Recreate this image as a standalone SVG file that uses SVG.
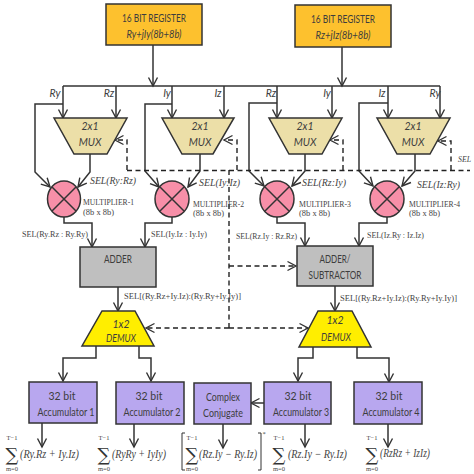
<svg xmlns="http://www.w3.org/2000/svg" width="474" height="474" viewBox="0 0 474 474">
<defs>
<marker id="a" markerUnits="userSpaceOnUse" markerWidth="12" markerHeight="12" refX="10" refY="6" orient="auto"><path d="M1.500,1.500 L10,6 L1.500,10.500" fill="none" stroke="#333" stroke-width="1.400"/></marker>
</defs>
<style>
text{font-family:Lato,"Liberation Sans",sans-serif;fill:#3d3d3d;font-size:10.500px;text-anchor:middle}
.n{stroke:#333;stroke-width:1.500}
.c{fill:none;stroke:#333;stroke-width:1.500;marker-end:url(#a)}
.l{fill:none;stroke:#333;stroke-width:1.500}
.d{fill:none;stroke:#222;stroke-width:1.400;stroke-dasharray:5 3.500}
.da{marker-end:url(#a)}
.reg{fill:#fdc12e}.mux{fill:#ecdfa8}.mul{fill:#f78fa8}.gray{fill:#bfbfbf}.dem{fill:#ffee00}.acc{fill:#b8a7ef}
.i{font-style:italic}
.s{font-family:"Liberation Serif",serif;font-size:8.500px;fill:#444;text-anchor:start}
.se{font-family:"Liberation Serif",serif;font-size:10.500px;font-style:italic;fill:#444;text-anchor:start}
.m{font-family:"Liberation Serif",serif;font-size:12px;font-style:italic;fill:#444;text-anchor:start}
.sum{font-family:"DejaVu Serif",serif;font-size:18px;fill:#333}
.t{font-family:"Liberation Serif",serif;font-size:6.500px;fill:#444}
</style>
<g id="connectors">
<path class="c" d="M153,45V86"/>
<path class="c" d="M342,47V86"/>
<path class="l" d="M63,86H440"/>
<path class="c" d="M63,86V118"/><path class="c" d="M116,86V118"/><path class="c" d="M172,86V118"/><path class="c" d="M224,86V118"/>
<path class="c" d="M277,86V118"/><path class="c" d="M332,86V118"/><path class="c" d="M388,86V118"/><path class="c" d="M440,86V118"/>
<path class="c" d="M63,104H35V172L50,187"/><path class="c" d="M90,154V172L78,187"/>
<path class="c" d="M172,104H145V171L159,187"/><path class="c" d="M200,154V171L188,187"/>
<path class="c" d="M277,103H249V171L264,186"/><path class="c" d="M305,154V171L292,186"/>
<path class="c" d="M388,103H359V171L373,186"/><path class="c" d="M415,154V171L402,186"/>
<path class="d" d="M127,170.500H470"/>
<path class="d da" d="M127,170V140H115"/><path class="d da" d="M237,170V140H224"/><path class="d da" d="M343,170V140H330"/><path class="d da" d="M451,170V141H438"/>
<path class="d" d="M229,170V328"/>
<path class="d da" d="M229,266H296"/>
<path class="d da" d="M229,328H146"/><path class="d da" d="M229,328H308"/>
<path class="c" d="M64,217V223H92V247"/><path class="c" d="M172,217V223H145V247"/><path class="c" d="M277,217V223H305V246"/><path class="c" d="M387,217V223H359V246"/>
<path class="c" d="M118,287V311"/><path class="c" d="M335,286V311"/>
<path class="c" d="M96,346V358H63V381"/><path class="c" d="M139,346V358H151V381"/><path class="c" d="M313,347V358H298V381"/><path class="c" d="M357,347V358H389V382"/>
<path class="c" d="M264,403H251"/>
<path class="c" d="M42,423V447"/><path class="c" d="M134,424V447"/><path class="c" d="M223,424V448"/><path class="c" d="M305,424V447"/><path class="c" d="M388,424V447"/>
</g>
<g id="reg1"><rect class="n reg" x="106" y="4" width="96" height="41"/><text x="154" y="22" textLength="64" lengthAdjust="spacingAndGlyphs">16 BIT REGISTER</text><text class="i" x="154" y="38" textLength="55" lengthAdjust="spacingAndGlyphs">Ry+jIy(8b+8b)</text></g>
<g id="reg2"><rect class="n reg" x="295" y="5" width="96" height="42"/><text x="343" y="23" textLength="64" lengthAdjust="spacingAndGlyphs">16 BIT REGISTER</text><text class="i" x="343" y="39" textLength="55" lengthAdjust="spacingAndGlyphs">Rz+jIz(8b+8b)</text></g>
<g id="bus-labels">
<text class="i" x="55" y="97">Ry</text><text class="i" x="109" y="97">Rz</text><text class="i" x="167" y="97">Iy</text><text class="i" x="218" y="97">Iz</text>
<text class="i" x="271" y="97">Rz</text><text class="i" x="327" y="97">Iy</text><text class="i" x="382" y="97">Iz</text><text class="i" x="435" y="97">Ry</text>
<text class="se" x="458" y="162" font-size="9" style="font-size:9px" textLength="13" lengthAdjust="spacingAndGlyphs">SEL</text>
</g>
<g id="mux1"><path class="n mux" d="M54,118H127L107,154H74Z"/><text class="i" x="90" y="130">2x1</text><text class="i" x="90" y="146">MUX</text></g>
<g id="mux2"><path class="n mux" d="M162,118H234L213,154H182Z"/><text class="i" x="200" y="130">2x1</text><text class="i" x="200" y="146">MUX</text></g>
<g id="mux3"><path class="n mux" d="M269,118H342L322,154H289Z"/><text class="i" x="305" y="130">2x1</text><text class="i" x="305" y="146">MUX</text></g>
<g id="mux4"><path class="n mux" d="M377,118H450L430,154H397Z"/><text class="i" x="413" y="130">2x1</text><text class="i" x="413" y="146">MUX</text></g>
<g id="mul1"><ellipse class="n mul" cx="64" cy="199" rx="16.500" ry="18"/><path class="l" d="M52,187L76,211M76,187L52,211"/><text class="s" x="83" y="205" textLength="51" lengthAdjust="spacingAndGlyphs">MULTIPLIER-1</text><text class="s" x="83" y="215" textLength="31" lengthAdjust="spacingAndGlyphs">(8b x 8b)</text><text class="se" x="90" y="184" textLength="46" lengthAdjust="spacingAndGlyphs">SEL(Ry:Rz)</text></g>
<g id="mul2"><ellipse class="n mul" cx="172" cy="199" rx="17" ry="18"/><path class="l" d="M160,187L184,211M184,187L160,211"/><text class="s" x="193" y="207" textLength="51" lengthAdjust="spacingAndGlyphs">MULTIPLIER-2</text><text class="s" x="193" y="216" textLength="31" lengthAdjust="spacingAndGlyphs">(8b x 8b)</text><text class="se" x="199" y="186" textLength="41" lengthAdjust="spacingAndGlyphs">SEL(Iy:Iz)</text></g>
<g id="mul3"><ellipse class="n mul" cx="277" cy="199" rx="17" ry="18"/><path class="l" d="M265,187L289,211M289,187L265,211"/><text class="s" x="299" y="207" textLength="52" lengthAdjust="spacingAndGlyphs">MULTIPLIER-3</text><text class="s" x="299" y="216" textLength="31" lengthAdjust="spacingAndGlyphs">(8b x 8b)</text><text class="se" x="302" y="186" textLength="44" lengthAdjust="spacingAndGlyphs">SEL(Rz:Iy)</text></g>
<g id="mul4"><ellipse class="n mul" cx="387" cy="199" rx="17" ry="18"/><path class="l" d="M375,187L399,211M399,187L375,211"/><text class="s" x="409" y="207" textLength="51" lengthAdjust="spacingAndGlyphs">MULTIPLIER-4</text><text class="s" x="409" y="216" textLength="31" lengthAdjust="spacingAndGlyphs">(8b x 8b)</text><text class="se" x="417" y="188" textLength="43" lengthAdjust="spacingAndGlyphs">SEL(Iz:Ry)</text></g>
<g id="sel-labels">
<text class="s" x="22" y="237" textLength="66" lengthAdjust="spacingAndGlyphs">SEL(Ry.Rz : Ry.Ry)</text>
<text class="s" x="151" y="237" textLength="56" lengthAdjust="spacingAndGlyphs">SEL(Iy.Iz : Iy.Iy)</text>
<text class="s" x="236" y="239" textLength="61" lengthAdjust="spacingAndGlyphs">SEL(Rz.Iy : Rz.Rz)</text>
<text class="s" x="367" y="238" textLength="57" lengthAdjust="spacingAndGlyphs">SEL(Iz.Ry : Iz.Iz)</text>
<text class="s" x="124" y="299" textLength="117" lengthAdjust="spacingAndGlyphs">SEL[(Ry.Rz+Iy.Iz):(Ry.Ry+Iy.Iy)]</text>
<text class="s" x="340" y="301" textLength="117" lengthAdjust="spacingAndGlyphs">SEL[(Ry.Rz+Iy.Iz):(Ry.Ry+Iy.Iy)]</text>
</g>
<g id="adder"><rect class="n gray" x="80" y="247" width="76" height="40"/><text x="118" y="263" textLength="28" lengthAdjust="spacingAndGlyphs">ADDER</text></g>
<g id="addsub"><rect class="n gray" x="297" y="246" width="76" height="40"/><text x="335" y="263" textLength="31" lengthAdjust="spacingAndGlyphs">ADDER/</text><text x="335" y="279" textLength="53" lengthAdjust="spacingAndGlyphs">SUBTRACTOR</text></g>
<g id="demux1"><path class="n dem" d="M102,311H135L154,346H82Z"/><text class="i" x="121" y="328">1x2</text><text class="i" x="121" y="342" textLength="30" lengthAdjust="spacingAndGlyphs">DEMUX</text></g>
<g id="demux2"><path class="n dem" d="M318,311H352L371,347H299Z"/><text class="i" x="335" y="324">1x2</text><text class="i" x="336" y="341" textLength="30" lengthAdjust="spacingAndGlyphs">DEMUX</text></g>
<g id="acc1"><rect class="n acc" x="29" y="382" width="68" height="41"/><text x="62" y="400">32 bit</text><text x="66" y="416" textLength="57" lengthAdjust="spacingAndGlyphs">Accumulator 1</text></g>
<g id="acc2"><rect class="n acc" x="116" y="382" width="68" height="42"/><text x="149" y="400">32 bit</text><text x="152" y="416" textLength="57" lengthAdjust="spacingAndGlyphs">Accumulator 2</text></g>
<g id="conj"><rect class="n acc" x="194" y="383" width="57" height="41"/><text x="223" y="401" textLength="34" lengthAdjust="spacingAndGlyphs">Complex</text><text x="223" y="417" textLength="40" lengthAdjust="spacingAndGlyphs">Conjugate</text></g>
<g id="acc3"><rect class="n acc" x="264" y="382" width="67" height="42"/><text x="298" y="400">32 bit</text><text x="301" y="416" textLength="56" lengthAdjust="spacingAndGlyphs">Accumulator 3</text></g>
<g id="acc4"><rect class="n acc" x="354" y="382" width="68" height="42"/><text x="389" y="400">32 bit</text><text x="391" y="416" textLength="57" lengthAdjust="spacingAndGlyphs">Accumulator 4</text></g>
<g id="formula1"><text class="t" x="12" y="440">T−1</text><text class="sum" x="12" y="461">∑</text><text class="t" x="12" y="471">m=0</text><text class="m" x="20" y="458" textLength="59" lengthAdjust="spacingAndGlyphs">(Ry.Rz + Iy.Iz)</text></g>
<g id="formula2"><text class="t" x="104" y="440">T−1</text><text class="sum" x="104" y="461">∑</text><text class="t" x="104" y="471">m=0</text><text class="m" x="112" y="458" textLength="54" lengthAdjust="spacingAndGlyphs">(RyRy + IyIy)</text></g>
<g id="formula3"><path class="l" d="M185,433H182V470H185M258,433H261V470H258" style="stroke-width:1"/><text class="t" x="192" y="440">T−1</text><text class="sum" x="192" y="461">∑</text><text class="t" x="192" y="471">m=0</text><text class="m" x="199" y="458" textLength="58" lengthAdjust="spacingAndGlyphs">(Rz.Iy − Ry.Iz)</text><text class="t" x="264" y="436">*</text></g>
<g id="formula4"><text class="t" x="279" y="440">T−1</text><text class="sum" x="279" y="461">∑</text><text class="t" x="279" y="471">m=0</text><text class="m" x="288" y="458" textLength="59" lengthAdjust="spacingAndGlyphs">(Rz.Iy − Ry.Iz)</text></g>
<g id="formula5"><text class="t" x="372" y="440">T−1</text><text class="sum" x="372" y="461">∑</text><text class="t" x="372" y="471">m=0</text><text class="m" x="380" y="457" textLength="50" lengthAdjust="spacingAndGlyphs">(RzRz + IzIz)</text></g>
</svg>
